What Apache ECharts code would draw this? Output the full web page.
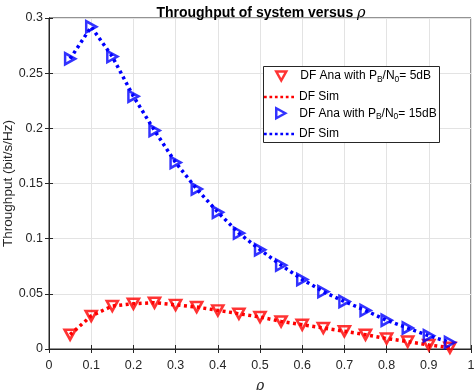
<!DOCTYPE html>
<html><head><meta charset="utf-8">
<script src="https://cdn.jsdelivr.net/npm/echarts@6/dist/echarts.min.js"></script>
<style>html,body{margin:0;padding:0;background:#fff}#c{width:474px;height:390px}</style>
</head><body><div id="c"></div>
<script>
const rho = [0.05,0.1,0.15,0.2,0.25,0.3,0.35,0.4,0.45,0.5,0.55,0.6,0.65,0.7,0.75,0.8,0.85,0.9,0.95];
const ana5 = [0.013,0.030,0.039,0.041,0.042,0.040,0.038,0.035,0.032,0.029,0.025,0.022,0.019,0.016,0.013,0.0095,0.0067,0.0037,0.0012];
const sim5 = [0.013,0.030,0.039,0.041,0.042,0.040,0.038,0.035,0.032,0.029,0.025,0.022,0.019,0.016,0.013,0.0095,0.0067,0.0037,0.0012];
const ana15 = [0.263,0.292,0.265,0.229,0.198,0.169,0.145,0.124,0.105,0.090,0.076,0.063,0.052,0.043,0.035,0.026,0.019,0.012,0.006];
const sim15 = [0.263,0.292,0.265,0.229,0.198,0.169,0.145,0.124,0.105,0.090,0.076,0.063,0.052,0.043,0.035,0.026,0.019,0.012,0.006];
const xTicks = [0,0.1,0.2,0.3,0.4,0.5,0.6,0.7,0.8,0.9,1];
const yTicks = [0,0.05,0.1,0.15,0.2,0.25,0.3];
const names = ['DF Ana with P{s|B}/N{s|0}= 5dB','DF Sim ','DF Ana with P{s|B}/N{s|0}= 15dB','DF Sim'];
const pair = (xs, ys) => xs.map((x,i)=>[x,ys[i]]);
const font = 'Liberation Sans, Arial, sans-serif';
const chart = echarts.init(document.getElementById('c'));
const axisCommon = {
  axisLine:{show:true,lineStyle:{color:'#262626',width:1}},
  axisTick:{show:true,inside:true,length:4,lineStyle:{color:'#262626'}},
};
function legText(padLeft){
  return {fontFamily:font,fontSize:12,color:'#000',padding:[0,0,0,padLeft],
    rich:{s:{fontSize:8.5,verticalAlign:'bottom',padding:[7,0,0,0],fontFamily:font,color:'#000'}}};
}
const downTri = 'path://M0,0L10,0L5,9Z';
const rightTri = 'path://M0,0L9,5L0,10Z';
const dots = 'path://M0,0h3v3h-3z M6,0h3v3h-3z M12,0h3v3h-3z M18,0h3v3h-3z M24,0h3v3h-3z M30,0h3v3h-3z';
function leg(i, top, icon, w, h, color, hollow){
  return {data:[{name:names[i],icon:icon,
      itemStyle: hollow ? {color:'rgba(0,0,0,0)',borderColor:color,borderWidth:2.5} : {color:color,borderWidth:0}}],
    left: hollow ? 275 : 264, top:top, itemWidth:w, itemHeight:h, itemGap:0, padding:0,
    selectedMode:false, textStyle:legText(hollow ? 9 : 0), z:60};
}
chart.setOption({
  animation:false,
  title:{text:'Throughput of system versus {r|ρ}',left:256,textAlign:'center',top:1,
    textStyle:{fontFamily:font,fontSize:14,fontWeight:'bold',color:'#000',
      rich:{r:{fontFamily:'DejaVu Serif, serif',fontStyle:'italic',fontSize:14.5,fontWeight:'normal',color:'#000'}}}},
  grid:{left:49,right:3,top:18,bottom:41,show:true,borderColor:'#262626',borderWidth:1,containLabel:false,outerBoundsMode:'none'},
  graphic:[{type:'rect',left:263,top:66,shape:{width:176,height:76},z:50,
    style:{fill:'#fff',stroke:'#262626',lineWidth:1}}],
  legend:[
    leg(0, 70, downTri, 10, 9, '#ff0000', true),
    leg(1, 91, dots, 30, 3, '#ff0000', false),
    leg(2, 107, rightTri, 9, 10, '#0000ff', true),
    leg(3, 128, dots, 30, 3, '#0000ff', false)
  ],
  xAxis:[{type:'value',min:0,max:1,interval:0.1,...axisCommon,
      splitLine:{show:true,lineStyle:{color:'#e3e3e3'}},
      axisLabel:{fontFamily:font,fontSize:12.5,color:'#262626',margin:10,
        formatter:v=>xTicks.includes(Math.round(v*10)/10)?String(Math.round(v*10)/10):''},
      name:'ρ',nameLocation:'middle',nameGap:30,
      nameTextStyle:{fontFamily:'DejaVu Serif, serif',fontStyle:'italic',fontSize:14,color:'#262626'}},
    {type:'value',min:0,max:1,interval:0.1,position:'top',...axisCommon,axisLabel:{show:false},splitLine:{show:false}}],
  yAxis:[{type:'value',min:0,max:0.3,interval:0.05,...axisCommon,
      splitLine:{show:true,lineStyle:{color:'#e3e3e3'}},
      axisLabel:{fontFamily:font,fontSize:12.5,color:'#262626',margin:6,
        formatter:v=>{const r=Math.round(v*100)/100;return yTicks.includes(r)?String(r):'';}},
      name:'Throughput (bit/s/Hz)',nameLocation:'middle',nameGap:34,nameMoveOverlap:false,
      nameTextStyle:{fontFamily:font,fontSize:13.5,color:'#262626'}},
    {type:'value',min:0,max:0.3,interval:0.05,position:'right',...axisCommon,axisLabel:{show:false},splitLine:{show:false}}],
  series:[
    {name:names[1],type:'line',data:pair(rho,sim5),symbol:'none',z:2,
      lineStyle:{color:'#ff0000',width:3.5,type:[3,3.5]},itemStyle:{color:'#ff0000'}},
    {name:names[3],type:'line',data:pair(rho,sim15),symbol:'none',z:2,
      lineStyle:{color:'#0000ff',width:3.5,type:[3,3.5]},itemStyle:{color:'#0000ff'}},
    {name:names[0],type:'scatter',data:pair(rho,ana5),symbol:'triangle',symbolSize:[11,10],symbolRotate:180,z:3,
      itemStyle:{color:'rgba(255,255,255,0)',borderColor:'#ff0000',borderWidth:2.6}},
    {name:names[2],type:'scatter',data:pair(rho,ana15),symbol:'triangle',symbolSize:[11,10],symbolRotate:-90,z:3,
      itemStyle:{color:'rgba(255,255,255,0)',borderColor:'#0000ff',borderWidth:2.6}}
  ]
});
</script></body></html>
